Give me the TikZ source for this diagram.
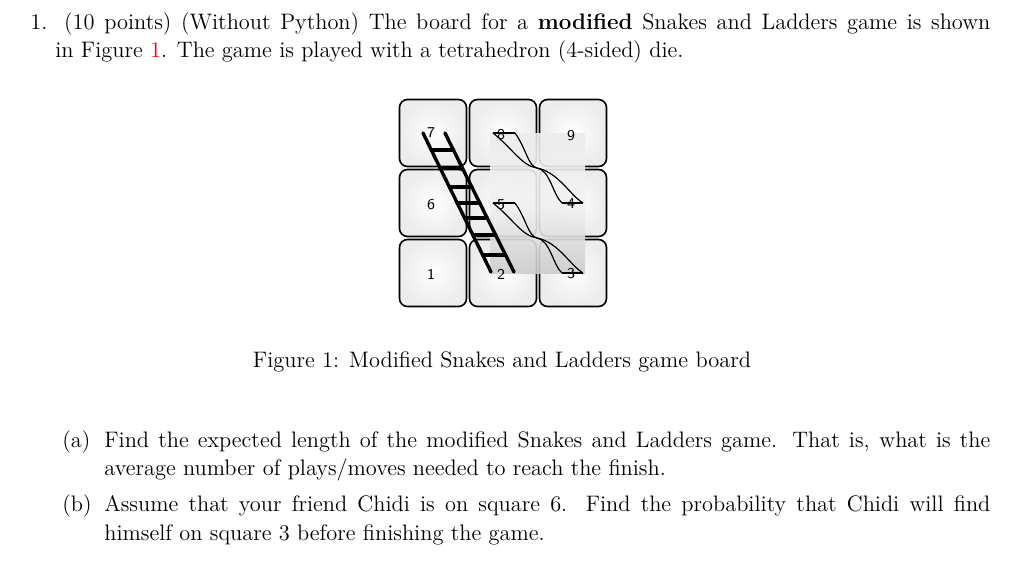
\documentclass[tikz,border=0pt]{standalone}
\usepackage{xcolor}
\usepackage{tikz}
\usetikzlibrary{positioning,calc}
\tikzstyle{cell} = [rectangle, rounded corners=4pt, minimum size=33.5pt, draw=black, line width=0.8pt, inner color=white, outer color=gray!15]
\tikzstyle{num} = [font=\sffamily\fontsize{7.5}{8}\selectfont, inner sep=0pt]
\tikzstyle{rail} = [line width=1.7pt, line cap=round]
\tikzstyle{snake} = [line width=0.6pt]
\tikzstyle{line} = [anchor=base west, inner sep=0pt, font=\fontsize{11.2}{14}\selectfont]
\begin{document}
\begin{tikzpicture}[x=0.5pt, y=-0.5pt]
\useasboundingbox (0,0) rectangle (1024,575);

% Question
\node (q1) [line] at (30,29) {\makebox[480pt][s]{1. (10 points) (Without Python) The board for a \textbf{modified} Snakes and Ladders game is shown}};
\node (q2) [line] at (55,57) {in Figure \textcolor{red}{1}. The game is played with a tetrahedron (4-sided) die.};

% Board cells
\foreach \r/\c/\n in {0/0/7,0/1/8,0/2/9,1/0/6,1/1/5,1/2/4,2/0/1,2/1/2,2/2/3}
  \node (c\n) [cell] at ({433+70*\c},{133+70*\r}) {};

% Shaded band
\shade[top color=gray!15, bottom color=gray!40, middle color=gray!10, opacity=0.9] (490,133) rectangle (585,273);

% Numbers
\node (n7) [num] at (431,133) {7};
\node (n8) [num] at (501,135) {8};
\node (n9) [num] at (571,136) {9};
\node (n6) [num] at (431,205) {6};
\node (n5) [num] at (501,205) {5};
\node (n4) [num] at (571,204) {4};
\node (n1) [num] at (431,274) {1};
\node (n2) [num] at (501,274) {2};
\node (n3) [num] at (571,274) {3};

% Snakes
\foreach \dy in {0,70} {
  \draw [snake] (493,133+\dy) -- (515,133+\dy);
  \draw [snake] (493,133+\dy) .. controls (512,148+\dy) and (522,166+\dy) .. (537,168+\dy)
                .. controls (550,170+\dy) and (553,195+\dy) .. (562,203+\dy);
  \draw [snake] (515,133+\dy) .. controls (526,148+\dy) and (528,166+\dy) .. (537,168+\dy)
                .. controls (558,172+\dy) and (570,195+\dy) .. (583,203+\dy);
  \draw [snake] (562,203+\dy) -- (583,203+\dy);
}

% Ladder
\draw [rail] (423,133) -- (491,272);
\draw [rail] (445,133) -- (514,272);
\foreach \y in {150,168,187,203,218,235,255}
  \draw [rail] ({423+(\y-133)*68/139},\y) -- ({445+(\y-133)*69/139},\y);

% Caption
\node (cap) [line, anchor=base] at (502,367) {Figure 1: Modified Snakes and Ladders game board};

% Parts
\node (pa) [line] at (62,447) {(a)};
\node (pa1) [line] at (104,447) {\makebox[443pt][s]{Find the expected length of the modified Snakes and Ladders game. That is, what is the}};
\node (pa2) [line] at (104,475) {average number of plays/moves needed to reach the finish.};
\node (pb) [line] at (62,511) {(b)};
\node (pb1) [line] at (104,511) {\makebox[443pt][s]{Assume that your friend Chidi is on square 6. Find the probability that Chidi will find}};
\node (pb2) [line] at (104,540) {himself on square 3 before finishing the game.};
\end{tikzpicture}
\end{document}
